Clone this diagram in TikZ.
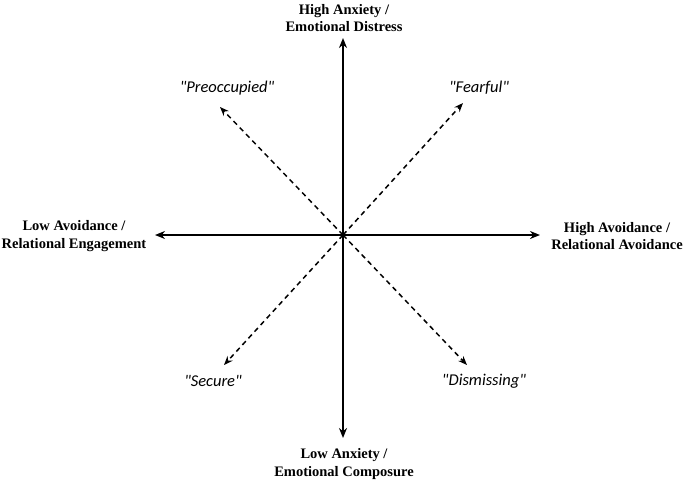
\documentclass[tikz,border=0pt]{standalone}
\usepackage{fontspec}
\setmainfont{Liberation Serif}
\newfontfamily\quadfont{Carlito}
\usetikzlibrary{arrows.meta}
\begin{document}
\begin{tikzpicture}[x=1pt,y=-1pt,
  axislabel/.style={font=\fontsize{14.5}{17.5}\selectfont\bfseries, align=center, inner sep=0pt},
  quadlabel/.style={font=\quadfont\fontsize{16.5}{18}\selectfont\itshape, inner sep=0pt},
  axis/.style={line width=2.2pt, -{Stealth[length=10pt,width=8pt]}},
  diag/.style={line width=1.5pt, dash pattern=on 5pt off 4pt, -{Stealth[length=9pt,width=7pt]}}]
\useasboundingbox (0,0) rectangle (685,483);
\coordinate (c) at (343,235);
\coordinate (t) at (343,38);
\coordinate (b) at (343,438);
\coordinate (l) at (155,235);
\coordinate (r) at (540,235);
\coordinate (tl) at (220,107);
\coordinate (tr) at (463,103);
\coordinate (bl) at (224,365);
\coordinate (br) at (467,365);
\draw[axis] (c) -- (t);
\draw[axis] (c) -- (b);
\draw[axis] (c) -- (l);
\draw[axis] (c) -- (r);
\draw[diag] (c) -- (tl);
\draw[diag] (c) -- (tr);
\draw[diag] (c) -- (bl);
\draw[diag] (c) -- (br);
\node[axislabel] (ntop) at (344,18) {High Anxiety /\\Emotional Distress};
\node[axislabel] (nbot) at (344,464) {Low Anxiety /\\Emotional Composure};
\node[axislabel] (nleft) at (74,236) {Low Avoidance /\\Relational Engagement};
\node[axislabel] (nright) at (617,236) {High Avoidance /\\Relational Avoidance};
\node[quadlabel] (npre) at (227,88) {"Preoccupied"};
\node[quadlabel] (nfea) at (479,88) {"Fearful"};
\node[quadlabel] (nsec) at (213,381) {"Secure"};
\node[quadlabel] (ndis) at (484,381) {"Dismissing"};
\end{tikzpicture}
\end{document}
